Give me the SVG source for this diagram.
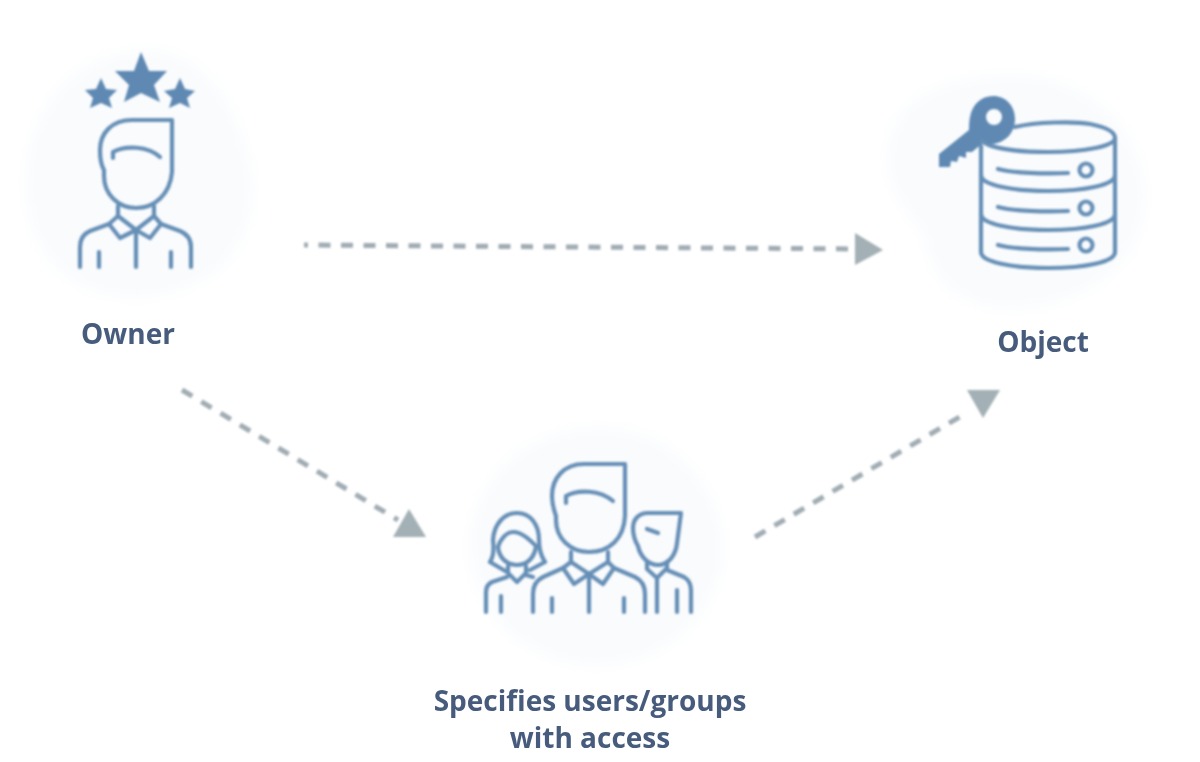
<svg xmlns="http://www.w3.org/2000/svg" width="1200" height="762" viewBox="0 0 1200 762">
<defs>
<filter id="soft" x="-5%" y="-5%" width="110%" height="110%"><feGaussianBlur stdDeviation="0.8"/></filter>
<filter id="textsoft" x="-5%" y="-20%" width="110%" height="140%"><feGaussianBlur stdDeviation="0.5"/></filter>
<filter id="blobsoft" x="-15%" y="-15%" width="130%" height="130%"><feGaussianBlur stdDeviation="8"/></filter>
</defs>
<style>
.ic{fill:none;stroke:#668fb6;stroke-width:4.2;stroke-linecap:round;stroke-linejoin:round}
.sol{fill:#5f89b3}
.blob{fill:#f9fbfd}
.lb{font-family:"Open Sans","Noto Sans","Liberation Sans",sans-serif;font-weight:700;font-size:28px;fill:#465b7b;text-anchor:middle}
.dash{fill:none;stroke:#a0acb3;stroke-width:5;stroke-dasharray:12 10.5}
.ah{fill:#a3b0b5}
</style>
<rect width="1200" height="762" fill="#fff"/>
<g id="connectors" filter="url(#soft)">
<path class="dash" stroke-dashoffset="8" d="M304 245L856 249"/>
<polygon class="ah" points="855,233 883,250 855,265"/>
<path class="dash" d="M182 390L398 520"/>
<polygon class="ah" points="409,509 426,537 393,537"/>
<path class="dash" d="M755 537L968 412"/>
<polygon class="ah" points="967,390 1000,390 983,418"/>
</g>
<g id="owner">
<path class="blob" filter="url(#blobsoft)" d="M140 50C195 45 235 95 250 165C262 235 225 290 145 297C75 300 30 260 26 190C24 110 75 55 140 50Z"/>
<g filter="url(#soft)">
<polygon class="sol" points="141,52 149,71 167,71 154,85 160,102 141,93 124,102 129,85 115,71 134,71"/>
<polygon class="sol" points="101,78 106,89 117,90 109,98 112,108 101,103 90,108 93,98 85,90 96,89"/>
<polygon class="sol" points="180,78 185,89 195,91 187,98 190,108 180,103 169,108 172,98 164,91 175,89"/>
<path class="ic" d="M172 120H132C112 120 100 133 100 150C100 160 101 165 104 170V176C104 194 118 208 136 208C155 208 170 194 172 172Z"/>
<path class="ic" d="M113 158V152C125 145 148 146 160 157"/>
<path class="ic" d="M118 206V216L136 230L154 216V206"/>
<path class="ic" d="M118 216L109 224L120 238L136 230L150 238L161 224L154 216"/>
<path class="ic" d="M109 224L90 231C83 234 80 240 80 247V267"/>
<path class="ic" d="M161 224L180 231C187 234 191 240 191 247V267"/>
<path class="ic" d="M136 230V267M99 252V267M171 252V267"/>
</g>
</g>
<g id="object">
<path class="blob" filter="url(#blobsoft)" d="M1000 75C1075 70 1140 120 1145 190C1148 265 1080 312 1000 308C945 300 930 270 925 235C885 190 875 150 905 110C930 85 965 78 1000 75Z"/>
<g filter="url(#soft)">
<path class="sol" fill-rule="evenodd" d="M993 96C1006 96 1015 106 1015 119C1015 133 1005 143 992 144C989 144 986 144 983 143L972 152L966 152V158L959 156L957 162L951 161L950 167H939V154L969 130C969 126 969 122 970 117C972 105 981 96 993 96ZM994 109A8 8 0 1 0 994 125A8 8 0 1 0 994 109Z"/>
<path class="ic" d="M1015 127C1035 122 1075 121 1090 124C1105 127 1115 131 1115 138C1115 146 1085 152 1048 152C1015 152 990 148 982 141"/>
<path class="ic" d="M981 146V252C981 262 1012 268 1048 268C1085 268 1115 262 1115 252V138"/>
<path class="ic" d="M981 175C981 185 1012 191 1048 191C1085 191 1115 185 1115 175"/>
<path class="ic" d="M981 214C981 224 1012 230 1048 230C1085 230 1115 224 1115 214"/>
<path class="ic" d="M998 169C1012 173 1045 174 1068 173M998 207C1012 211 1045 212 1068 211M998 245C1012 249 1045 250 1068 249"/>
<circle class="ic" cx="1086" cy="170" r="6.5"/>
<circle class="ic" cx="1086" cy="208" r="6.5"/>
<circle class="ic" cx="1086" cy="245" r="6.5"/>
</g>
<text class="lb" filter="url(#textsoft)" x="1043" y="352">Object</text>
</g>
<g id="users">
<path class="blob" filter="url(#blobsoft)" d="M595 428C665 425 720 480 723 545C722 615 665 665 595 665C525 663 470 610 470 545C472 480 525 430 595 428Z"/>
<g filter="url(#soft)">
<path class="ic" d="M625 464H584C564 464 552 478 552 496C552 505 554 510 556 516V520C556 538 570 552 589 552C610 552 624 538 625 516Z"/>
<path class="ic" d="M566 503V496C578 489 600 490 613 501"/>
<path class="ic" d="M571 552V562L589 574L608 562V552"/>
<path class="ic" d="M571 562L563 568L574 584L589 574L603 584L614 568L608 562"/>
<path class="ic" d="M563 568L543 577C537 580 533 586 533 594V612"/>
<path class="ic" d="M614 568L635 577C641 580 645 586 645 594V612"/>
<path class="ic" d="M589 574V612M552 598V612M624 598V612"/>
<path class="ic" d="M507 572L490 562C494 556 494 548 493 540C494 524 504 513 517 513C530 513 539 524 539 540C539 548 541 556 545 562L530 570"/>
<path class="ic" d="M498 547C500 540 506 532 513 532C522 532 530 540 537 547"/>
<path class="ic" d="M498 547C499 558 507 565 517 565C527 565 534 558 536 547"/>
<path class="ic" d="M508 566V573L517 582L526 573V566"/>
<path class="ic" d="M507 577L492 582C488 584 486 587 486 592V612M501 596V612"/>
<path class="ic" d="M526 575L533 577"/>
<path class="ic" d="M681 513H648C638 513 633 520 633 528C633 535 635 541 638 546C640 556 648 565 658 565C669 565 676 554 677 543Z"/>
<path class="ic" d="M647 529L658 533"/>
<path class="ic" d="M647 562V569L657 578L667 568V562"/>
<path class="ic" d="M657 578V612"/>
<path class="ic" d="M667 570L684 577C689 580 691 585 691 590V612M677 590V612"/>
</g>
<text class="lb" filter="url(#textsoft)" x="590" y="711">Specifies users/groups</text>
<text class="lb" filter="url(#textsoft)" x="590" y="748">with access</text>
</g>
<text class="lb" filter="url(#textsoft)" x="128" y="344">Owner</text>
</svg>
